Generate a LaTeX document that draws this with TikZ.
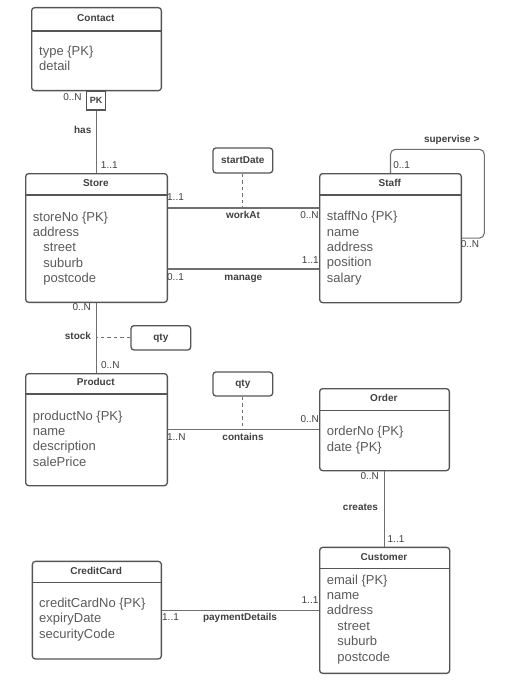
\documentclass[tikz,border=0pt]{standalone}
\usepackage{fontspec}
\setmainfont{Liberation Sans}
\usetikzlibrary{calc}
\definecolor{boxc}{HTML}{555555}
\definecolor{linec}{HTML}{707070}
\definecolor{attrc}{HTML}{5A5A5A}
\definecolor{labc}{HTML}{404040}
\tikzset{
  entity/.style={draw=boxc, line width=1.3pt, rounded corners=3pt, inner sep=0pt, anchor=north west},
  hdr/.style={draw=boxc, line width=1.3pt},
  etitle/.style={font=\fontsize{10}{12}\selectfont\bfseries, text=labc, inner sep=0pt, anchor=base},
  attr/.style={font=\fontsize{13}{15.5}\selectfont, text=attrc, inner sep=0pt, anchor=base west},
  conn/.style={draw=linec, line width=1.1pt},
  dashconn/.style={draw=linec, line width=1.1pt, dash pattern=on 3.5pt off 3pt},
  mult/.style={font=\fontsize{10}{12}\selectfont, text=labc, inner sep=0pt, anchor=base},
  rel/.style={font=\fontsize{10}{12}\selectfont\bfseries, text=labc, inner sep=0pt, anchor=base},
  attbox/.style={draw=boxc, line width=1.3pt, rounded corners=3pt, inner sep=0pt, font=\fontsize{10}{12}\selectfont\bfseries, text=labc},
}
\newcommand{\entattrs}[5]{%
  \foreach \t [count=\i] in {#5} {\node[attr] (#1-a\i) at (#2, {#3+(\i-1)*#4}) {\t};}%
}
\newcommand{\ind}{\hspace*{10.5pt}}
\begin{document}
\begin{tikzpicture}[x=1pt,y=-1pt]
\useasboundingbox (0,0) rectangle (504,682);

% ---------- entities ----------
\node[entity, minimum width=129.7pt, minimum height=83pt] (contact) at (31,7) {};
\draw[hdr] ([yshift=-24pt]contact.north west) -- ([yshift=-24pt]contact.north east);
\node[etitle] (contact-t) at (95.85,21.9) {Contact};
\entattrs{contact}{39}{55.5}{15.5}{type \{PK\}, detail}

\node[entity, minimum width=141.7pt, minimum height=128.7pt] (store) at (25,173) {};
\draw[hdr] ([yshift=-22pt]store.north west) -- ([yshift=-22pt]store.north east);
\node[etitle] (store-t) at (95.85,186.9) {Store};
\entattrs{store}{32.7}{221}{15.4}{storeNo \{PK\}, address, \ind street, \ind suburb, \ind postcode}

\node[entity, minimum width=141.7pt, minimum height=129pt] (staff) at (319,173) {};
\draw[hdr] ([yshift=-22pt]staff.north west) -- ([yshift=-22pt]staff.north east);
\node[etitle] (staff-t) at (389.85,186.3) {Staff};
\entattrs{staff}{326.7}{220.7}{15.4}{staffNo \{PK\}, name, address, position, salary}

\node[entity, minimum width=141.7pt, minimum height=112pt] (product) at (25,373) {};
\draw[hdr] ([yshift=-21pt]product.north west) -- ([yshift=-21pt]product.north east);
\node[etitle] (product-t) at (95.85,385.9) {Product};
\entattrs{product}{32.7}{420}{15.4}{productNo \{PK\}, name, description, salePrice}

\node[entity, minimum width=129.7pt, minimum height=82pt] (order) at (319,388) {};
\draw[hdr] ([yshift=-22.7pt]order.north west) -- ([yshift=-22.7pt]order.north east);
\node[etitle] (order-t) at (383.85,401.9) {Order};
\entattrs{order}{326.7}{435.7}{15.5}{orderNo \{PK\}, date \{PK\}}

\node[entity, minimum width=130pt, minimum height=126pt] (customer) at (319,546.7) {};
\draw[hdr] ([yshift=-21.6pt]customer.north west) -- ([yshift=-21.6pt]customer.north east);
\node[etitle] (customer-t) at (384,560.3) {Customer};
\entattrs{customer}{326.7}{584}{15.4}{email \{PK\}, name, address, \ind street, \ind suburb, \ind postcode}

\node[entity, minimum width=129pt, minimum height=97.6pt] (creditcard) at (31.7,560.7) {};
\draw[hdr] ([yshift=-21.6pt]creditcard.north west) -- ([yshift=-21.6pt]creditcard.north east);
\node[etitle] (creditcard-t) at (96.2,574.3) {CreditCard};
\entattrs{creditcard}{39}{607.3}{15.6}{creditCardNo \{PK\}, expiryDate, securityCode}

% ---------- attribute boxes ----------
\node[draw=boxc, line width=1.2pt, inner sep=0pt, minimum width=19pt, minimum height=18.3pt,
      font=\fontsize{9}{10}\selectfont\bfseries, text=labc] (pk) at (96.2,100.9) {PK};
\node[attbox, minimum width=59.7pt, minimum height=25pt] (startdate) at (242.85,160.5) {startDate};
\node[attbox, minimum width=59.7pt, minimum height=24.3pt] (qtyA) at (160.85,337.85) {qty};
\node[attbox, minimum width=59.7pt, minimum height=24pt] (qtyB) at (242.85,384) {qty};

% ---------- connectors ----------
\coordinate (yWork) at (0,208);
\coordinate (yMan) at (0,269);
\coordinate (yCont) at (0,429.3);
\coordinate (loopc) at (484.3,149.3);

\draw[conn] (pk.south) -- (pk.south |- store.north);
\draw[conn] (store.east |- yWork) -- (staff.west |- yWork);
\draw[conn] (store.east |- yMan) -- (staff.west |- yMan);
\draw[dashconn] (startdate.south) -- (startdate.south |- yWork);
\draw[conn, rounded corners=5pt] (staff.north) |- (loopc) |- (staff.east);
\draw[conn] (store.south) -- (product.north);
\draw[dashconn] (qtyA.west) -- (qtyA.west -| store.south);
\draw[conn] (product.east |- yCont) -- (order.west |- yCont);
\draw[dashconn] (qtyB.south) -- (qtyB.south |- yCont);
\draw[conn] (order.south) -- (order.south |- customer.north);
\draw[conn] (creditcard.east) -- (creditcard.east -| customer.west);

% ---------- labels ----------
\node[mult] (m1) at (72.5,100.3) {0..N};
\node[rel] (r1) at (82.7,133.6) {has};
\node[mult] (m2) at (109.3,168.6) {1..1};
\node[mult] (m3) at (175.5,200.9) {1..1};
\node[rel] (r2) at (243,218.6) {workAt};
\node[mult] (m4) at (309.5,218.6) {0..N};
\node[mult] (m5) at (175.5,280.3) {0..1};
\node[rel] (r3) at (243.3,280) {manage};
\node[mult] (m6) at (310.3,263.6) {1..1};
\node[rel] (r4) at (451.7,142.6) {supervise >};
\node[mult] (m7) at (401.7,168.6) {0..1};
\node[mult] (m8) at (470,247.6) {0..N};
\node[mult] (m9) at (81.7,310.9) {0..N};
\node[rel] (r5) at (78,339.6) {stock};
\node[mult] (m10) at (110.3,368.6) {0..N};
\node[mult] (m11) at (176.3,440.3) {1..N};
\node[rel] (r6) at (243,440.3) {contains};
\node[mult] (m12) at (309.7,422.9) {0..N};
\node[mult] (m13) at (369.7,479.6) {0..N};
\node[rel] (r7) at (360.5,510.9) {creates};
\node[mult] (m14) at (396,542) {1..1};
\node[mult] (m15) at (170.5,620.9) {1..1};
\node[rel] (r8) at (240,620.9) {paymentDetails};
\node[mult] (m16) at (310,603.6) {1..1};
\end{tikzpicture}
\end{document}
